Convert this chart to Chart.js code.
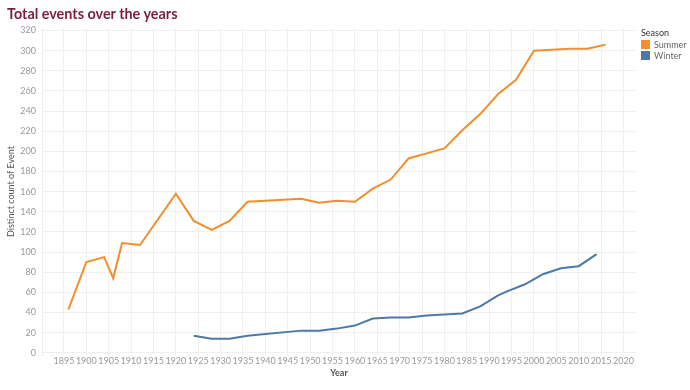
<!DOCTYPE html>
<html>
<head>
<meta charset="utf-8">
<script src="https://cdn.jsdelivr.net/npm/chart.js@4/dist/chart.umd.min.js"></script>
<style>
  html, body { margin: 0; padding: 0; background: #fff; }
  #wrap { position: relative; width: 690px; height: 390px; }
  #title { position: absolute; left: 7px; top: 5px; font-family: Lato, sans-serif; font-weight: 700; font-size: 14.4px; color: #7b1f3a; white-space: nowrap; }
  #legend { position: absolute; left: 641px; top: 27px; font-family: Lato, sans-serif; font-size: 9px; color: #555; }
  #legend .hdr { color: #333; margin-bottom: 1px; }
  #legend .item { display: flex; align-items: center; height: 11px; color: #666; }
  #legend .sw { width: 9px; height: 9px; margin-right: 4px; }
</style>
</head>
<body>
<div id="wrap">
  <canvas id="c" width="690" height="390"></canvas>
  <div id="title">Total events over the years</div>
  <div id="legend">
    <div class="hdr">Season</div>
    <div class="item"><span class="sw" style="background:#f28e2b"></span>Summer</div>
    <div class="item"><span class="sw" style="background:#4e79a7"></span>Winter</div>
  </div>
</div>
<script>
const summerYears = [1896,1900,1904,1906,1908,1912,1920,1924,1928,1932,1936,1948,1952,1956,1960,1964,1968,1972,1976,1980,1984,1988,1992,1996,2000,2004,2008,2012,2016];
const summerEvents = [43,90,95,74,109,107,158,131,122,131,150,153,149,151,150,163,172,193,198,203,221,237,257,271,300,301,302,302,306];
const winterYears = [1924,1928,1932,1936,1948,1952,1956,1960,1964,1968,1972,1976,1980,1984,1988,1992,1994,1998,2002,2006,2010,2014];
const winterEvents = [17,14,14,17,22,22,24,27,34,35,35,37,38,39,46,57,61,68,78,84,86,98];
const xTicks = [1895,1900,1905,1910,1915,1920,1925,1930,1935,1940,1945,1950,1955,1960,1965,1970,1975,1980,1985,1990,1995,2000,2005,2010,2015,2020];
const yTicks = [0,20,40,60,80,100,120,140,160,180,200,220,240,260,280,300,320];

const toPts = (xs, ys) => xs.map((x, i) => ({ x: x, y: ys[i] }));

new Chart(document.getElementById('c'), {
  type: 'line',
  data: {
    datasets: [
      { label: 'Summer', data: toPts(summerYears, summerEvents), borderColor: '#f28e2b', backgroundColor: '#f28e2b', borderWidth: 2, pointRadius: 0, tension: 0 },
      { label: 'Winter', data: toPts(winterYears, winterEvents), borderColor: '#4e79a7', backgroundColor: '#4e79a7', borderWidth: 2, pointRadius: 0, tension: 0 }
    ]
  },
  options: {
    responsive: false,
    animation: false,
    layout: { padding: { left: 6, right: 54, top: 28, bottom: 12 } },
    plugins: { legend: { display: false }, tooltip: { enabled: false } },
    scales: {
      x: {
        type: 'linear',
        min: 1890.1,
        max: 2022.8,
        afterBuildTicks: s => { s.ticks = xTicks.map(v => ({ value: v })); },
        afterFit: s => { s.height = 23; },
        grid: { color: '#f0f0f0', drawTicks: false },
        border: { display: false },
        ticks: { callback: v => String(v), color: '#999', font: { family: 'Lato', size: 9 }, padding: 1, maxRotation: 0, autoSkip: false },
        title: { display: true, text: 'Year', color: '#555', font: { family: 'Lato', size: 9, weight: 'bold' }, padding: { top: 2, bottom: 0 } }
      },
      y: {
        min: -2.2,
        max: 322.5,
        afterBuildTicks: s => { s.ticks = yTicks.map(v => ({ value: v })); },
        afterFit: s => { s.width = 36; },
        grid: { color: '#f0f0f0', drawTicks: false },
        border: { display: true, color: '#ececec' },
        ticks: { color: '#999', font: { family: 'Lato', size: 9 }, padding: 6, autoSkip: false },
        title: { display: true, text: 'Distinct count of Event', color: '#555', font: { family: 'Lato', size: 9 }, padding: { top: 0, bottom: 0 } }
      }
    }
  }
});
</script>
</body>
</html>
